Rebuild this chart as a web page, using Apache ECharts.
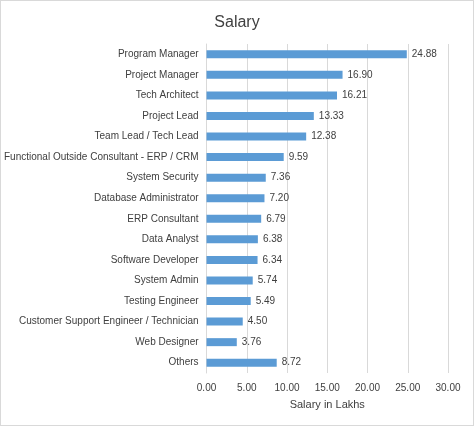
<!DOCTYPE html>
<html><head><meta charset="utf-8">
<script src="https://cdn.jsdelivr.net/npm/echarts@6/dist/echarts.min.js"></script>
<style>html,body{margin:0;padding:0;background:#fff}#c{width:474px;height:426px;box-sizing:border-box;border:1px solid #d9d9d9}</style>
</head><body><div id="c"></div>
<script>
const categories = ['Program Manager','Project Manager','Tech Architect','Project Lead','Team Lead / Tech Lead','Functional Outside Consultant - ERP / CRM','System Security','Database Administrator','ERP Consultant','Data Analyst','Software Developer','System Admin','Testing Engineer','Customer Support Engineer / Technician','Web Designer','Others'];
const salary = [24.88,16.90,16.21,13.33,12.38,9.59,7.36,7.20,6.79,6.38,6.34,5.74,5.49,4.50,3.76,8.72];

let chart = echarts.init(document.getElementById('c'));
chart.setOption({
	animation:false,
	title:{text:'Salary',left:'center',top:9,textStyle:{fontFamily:'Liberation Sans',fontWeight:'normal',fontSize:16,color:'#404040'}},
	grid:{left:200,right:25,top:43,bottom:52,containLabel:false},
	xAxis:{
		type:'value',min:0,max:30,interval:5,
		name:'Salary in Lakhs',nameLocation:'middle',nameGap:26,
		nameTextStyle:{fontFamily:'Liberation Sans',fontSize:11,color:'#404040'},
		axisLabel:{formatter:v=>v.toFixed(2),fontFamily:'Liberation Sans',fontSize:10,color:'#404040',margin:10},
		splitLine:{lineStyle:{color:'#d9d9d9'}},
		axisLine:{show:false},axisTick:{show:false}
	},
	yAxis:{
		type:'category',data:categories,inverse:true,
		axisLabel:{fontFamily:'Liberation Sans',fontSize:10,color:'#404040',margin:8},
		axisLine:{lineStyle:{color:'#d9d9d9'}},axisTick:{show:false}
	},
	series:[{
		type:'bar',data:salary,barWidth:8,
		itemStyle:{color:'#5b9bd5'},
		label:{show:true,position:'right',formatter:p=>p.value.toFixed(2),fontFamily:'Liberation Sans',fontSize:10,color:'#404040'}
	}]
});
</script></body></html>
